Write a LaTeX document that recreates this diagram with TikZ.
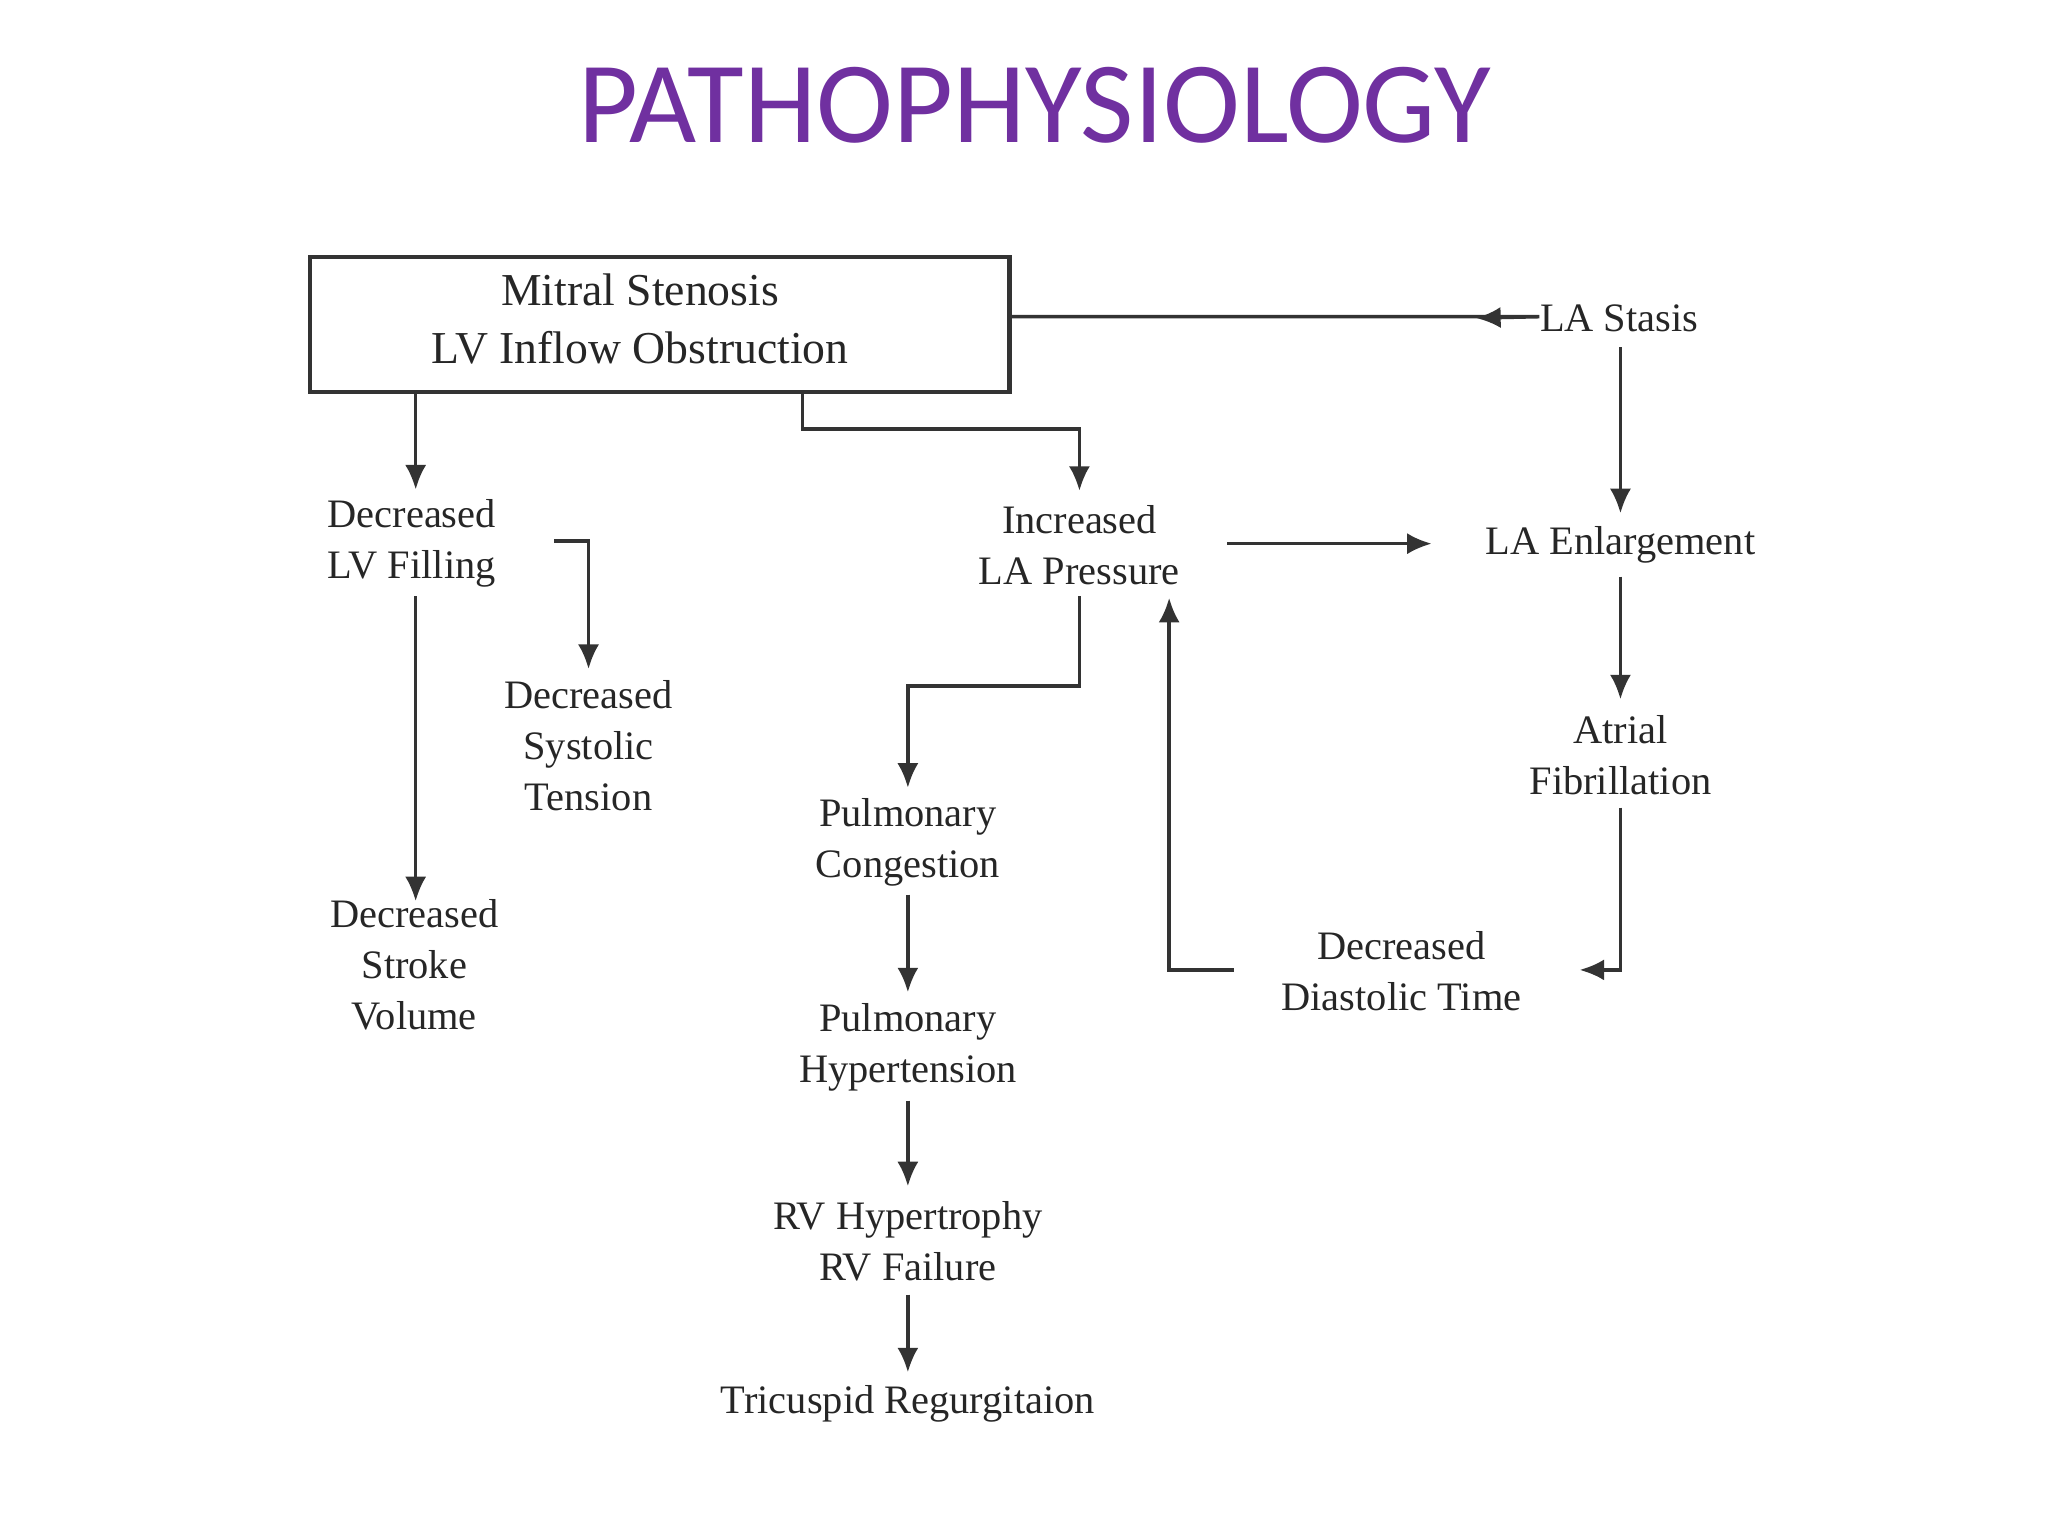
\documentclass[tikz,border=0pt]{standalone}
\usepackage{fontspec}
\setmainfont{Liberation Serif}
\newfontfamily\titlefont{Carlito}
\usetikzlibrary{arrows.meta,calc}
\definecolor{ttl}{HTML}{7030A0}
\definecolor{ln}{HTML}{333333}
\begin{document}
\begin{tikzpicture}[x=0.0132cm,y=-0.0132cm,
  lbl/.style={align=center,font=\fontsize{11.5pt}{14.5pt}\selectfont,inner sep=0pt,text=black!85},
  arr/.style={draw=ln,line width=1pt,-{Latex[length=7pt,width=6pt]}},
  plain/.style={draw=ln,line width=1pt}]
\useasboundingbox (0,0) rectangle (1552,1164);
\node[font=\titlefont\fontsize{33pt}{36pt}\selectfont,text=ttl] (title) at (784,80) {PATHOPHYSIOLOGY};
\draw[line width=1.2pt,draw=ln] (235,195) rectangle (765,297);
\node[align=center,font=\fontsize{13pt}{16.5pt}\selectfont,text=black!85] (ms) at (485,242) {Mitral Stenosis\\LV Inflow Obstruction};
\coordinate (boxR) at (765,240);
\coordinate (boxB1) at (315,297);
\coordinate (boxB2) at (608,297);
\node[lbl] (stasis) at (1227,241) {LA Stasis};
\node[lbl,align=left] (lvf) at (312,412) {Decreased\\LV Filling};
\node[lbl] (lap) at (818,413) {Increased\\LA Pressure};
\node[lbl] (lae) at (1228,413) {LA Enlargement};
\node[lbl] (dst) at (446,565) {Decreased\\Systolic\\Tension};
\node[lbl] (pc) at (688,638) {Pulmonary\\Congestion};
\node[lbl] (af) at (1228,572) {Atrial\\Fibrillation};
\node[lbl] (dsv) at (314,731) {Decreased\\Stroke\\Volume};
\node[lbl] (ddt) at (1062,736) {Decreased\\Diastolic Time};
\node[lbl] (ph) at (688,794) {Pulmonary\\Hypertension};
\node[lbl] (rv) at (688,941) {RV Hypertrophy\\RV Failure};
\node[lbl] (tr) at (688,1064) {Tricuspid Regurgitaion};

\draw[arr] (boxR) -- (1138,240 -| stasis.west) -- ([xshift=-18pt]stasis.west);
\draw[arr] (1228,263) -- (1228,389);
\draw[arr] (boxB1) -- (315,371);
\draw[arr] (boxB2) -- (608,325) -- (818,325) -- (818,372);
\draw[arr] (420,410) -- (446,410) -- (446,507);
\draw[arr] (315,452) -- (315,683);
\draw[arr] (930,412) -- (1085,412);
\draw[arr] (818,452) -- (818,520) -- (688,520) -- (688,597);
\draw[arr] (688,678) -- (688,752);
\draw[arr] (688,834) -- (688,899);
\draw[arr] (688,981) -- (688,1040);
\draw[arr] (1228,437) -- (1228,530);
\draw[arr] (1228,612) -- (1228,735) -- (1197,735);
\draw[arr] (935,735) -- (886,735) -- (886,453);
\end{tikzpicture}
\end{document}
